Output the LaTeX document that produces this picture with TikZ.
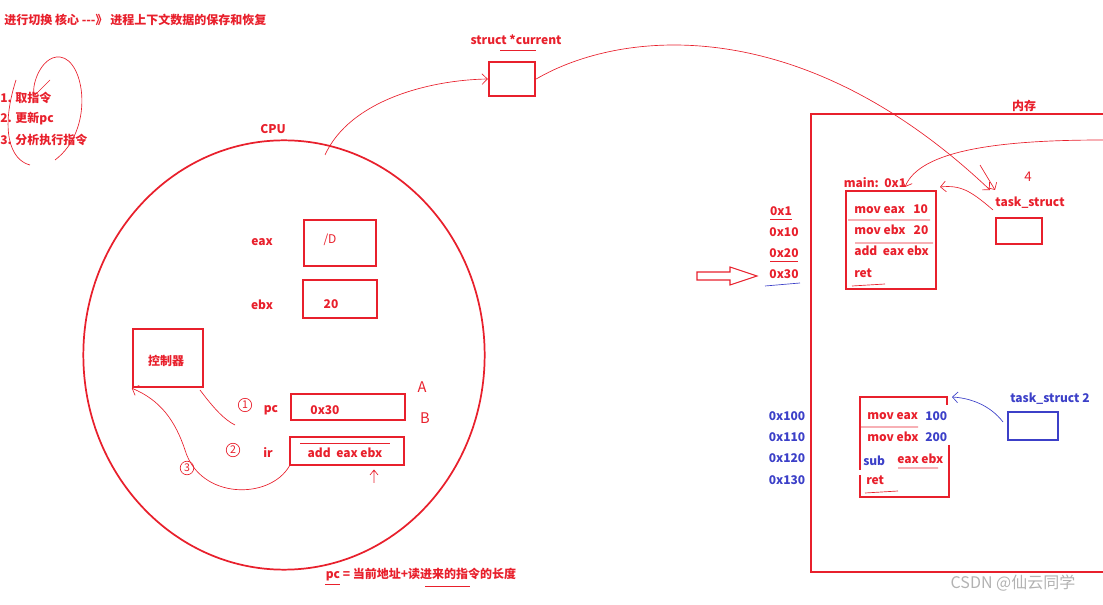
\documentclass[tikz,border=0pt]{standalone}
\usepackage{fontspec}
\setmainfont{Noto Sans CJK SC}
\usetikzlibrary{arrows.meta,shapes.geometric}
\definecolor{rd}{RGB}{232,32,44}
\definecolor{bl}{RGB}{60,64,200}
\tikzset{
 t/.style={font=\bfseries\fontsize{9}{10}\selectfont,text=rd,inner sep=0pt},
 tb/.style={t,text=bl},
 bx/.style={draw=rd,line width=1.3pt},
 bbx/.style={draw=bl,line width=1.3pt},
 hand/.style={draw=rd,line width=0.5pt},
 hb/.style={draw=bl,line width=0.5pt},
 ha/.style={hand,-{Straight Barb[length=4pt]}},
}
\begin{document}
\begin{tikzpicture}[x=0.75pt,y=-0.75pt]
\useasboundingbox (0,0) rectangle (1103,605);
\node[t,anchor=west] (title) at (4,20) {进行切换 核心 -{}-{}-》 进程上下文数据的保存和恢复};
\node[t] (curl) at (516,40) {struct *current};
\draw[hand] (500,50) -- (536,50);
\node[bx,minimum width=35pt,minimum height=25pt] (cur) at (512,79) {};
\node[t,anchor=west] (l1) at (0,98) {1. 取指令};
\node[t,anchor=west] (l2) at (0,119) {2. 更新pc};
\node[t,anchor=west] (l3) at (0,140) {3. 分析执行指令};
\draw[hand] (16,80) .. controls (0,130) and (10,160) .. (30,165);
\draw[hand] (55,160) .. controls (95,130) and (85,60) .. (60,57) .. controls (40,55) and (30,90) .. (35,95);
\draw[hand] (50,80) -- (35,95);
\node[t] (cpul) at (273,129) {CPU};
\node[ellipse,draw=rd,line width=1.3pt,minimum width=301pt,minimum height=322pt] (cpu) at (284,355) {};
\node[t] (eaxl) at (262,242) {eax};
\node[bx,minimum width=54pt,minimum height=34pt] (eax) at (340,243) {};
\node[font=\fontsize{9}{10}\selectfont,text=rd] (ten) at (330,240) {/D};
\node[t] (ebxl) at (262,305) {ebx};
\node[bx,minimum width=55pt,minimum height=29pt] (ebx) at (340,299) {};
\node[t] (twenty) at (331,304) {20};
\node[bx,minimum width=53pt,minimum height=44pt] (ctl) at (168,358) {};
\node[t] (ctlt) at (166,361) {控制器};
\node[t] (pcl) at (271,410) {pc};
\node[bx,minimum width=86pt,minimum height=19pt] (pc) at (348,407) {};
\node[t] (pcv) at (325,410) {0x30};
\node[t] (irl) at (268,453) {ir};
\node[bx,minimum width=85pt,minimum height=21pt] (ir) at (347,451) {};
\node[t] (irv) at (345,453) {add\ \ eax ebx};
\draw[hand] (300,443) -- (390,443);
\node[font=\fontsize{11}{12}\selectfont,text=rd] (A) at (422,387) {A};
\node[font=\fontsize{11}{12}\selectfont,text=rd] (B) at (425,418) {B};
\draw[hand] (374,483) -- (374,470) (370,475) -- (374,470) -- (378,475);
\node[circle,hand,inner sep=1pt,font=\fontsize{8}{9}\selectfont,text=rd] (c1) at (245,405) {1};
\node[circle,hand,inner sep=1pt,font=\fontsize{8}{9}\selectfont,text=rd] (c2) at (233,450) {2};
\node[circle,hand,inner sep=1pt,font=\fontsize{8}{9}\selectfont,text=rd] (c3) at (187,468) {3};
\draw[hand] (200,390) .. controls (215,410) and (225,420) .. (235,425);
\draw[ha] (ir.south west) .. controls (270,500) and (200,500) .. (185,450) .. controls (175,420) and (160,400) .. (ctl.south west);
\node[t] (form) at (421,575) {pc = 当前地址+读进来的指令的长度};
\draw[hand] (325,584) -- (340,584) (425,586) -- (470,586);
\draw[ha] (325,155) .. controls (350,100) and (430,80) .. (cur.west);
\draw[ha] (cur.east) .. controls (620,30) and (800,10) .. (990,190);
\node[t] (meml) at (1024,106) {内存};
\draw[draw=rd,line width=1.3pt] (1103,114) -- (811,114) -- (811,572) -- (1103,572);
\node[t] (a1) at (781,211) {0x1};
\node[t] (a2) at (784,232) {0x10};
\node[t] (a3) at (784,253) {0x20};
\node[t] (a4) at (784,274) {0x30};
\draw[hand] (770,219) -- (792,219) (770,261) -- (798,261);
\draw[hb] (765,286) -- (800,283);
\node[tb] (b1) at (787,416) {0x100};
\node[tb] (b2) at (787,437) {0x110};
\node[tb] (b3) at (787,458) {0x120};
\node[tb] (b4) at (787,480) {0x130};
\draw[draw=rd,line width=0.8pt] (697,272) -- (730,272) -- (730,267) -- (757,276) -- (730,285) -- (730,280) -- (697,280) -- cycle;
\node[t] (mainl) at (875,183) {main:\ \ 0x1};
\node[bx,minimum width=67pt,minimum height=74pt] (m1) at (891,240) {};
\node[t,anchor=west] (m11) at (854,209) {mov eax\ \ \ 10};
\node[t,anchor=west] (m12) at (854,230) {mov ebx\ \ \ 20};
\node[t,anchor=west] (m13) at (854,251) {add\ \ eax ebx};
\node[t,anchor=west] (m14) at (854,273) {ret};
\draw[hand] (848,220) -- (930,220) (855,243) -- (933,243) (852,286) -- (885,284);
\node[t] (ts) at (1030,203) {task\_struct};
\node[bx,minimum width=35pt,minimum height=20pt] (tsb) at (1019,231) {};
\node[font=\fontsize{10}{11}\selectfont,text=rd] (four) at (1028,177) {4};
\draw[ha] (1103,140) .. controls (1000,140) and (920,150) .. (905,187);
\draw[ha] (993,210) .. controls (970,190) and (960,185) .. (940,187);
\draw[ha] (980,165) -- (995,190);
\draw[draw=rd,line width=1.3pt] (860,470) -- (860,397) -- (947,397) -- (947,405);
\draw[draw=rd,line width=1.3pt] (949,445) -- (949,497) -- (860,497) -- (860,475);
\node[t,anchor=west] (n11) at (867,416) {mov eax};
\node[tb,anchor=west] (n11v) at (925,416) {100};
\node[t,anchor=west] (n12) at (867,437) {mov ebx};
\node[tb,anchor=west] (n12v) at (925,437) {200};
\node[tb,anchor=west] (n13) at (863,461) {sub};
\node[t,anchor=west] (n13v) at (897,459) {eax ebx};
\node[t,anchor=west] (n14) at (866,480) {ret};
\draw[hand] (860,427) -- (918,427) (898,468) -- (938,468) (865,493) -- (898,491);
\node[tb] (ts2) at (1050,399) {task\_struct 2};
\node[bbx,minimum width=37pt,minimum height=21pt] (ts2b) at (1033,426) {};
\draw[hb,-{Straight Barb[length=4pt]}] (1003,422) .. controls (990,405) and (970,398) .. (952,397);
\node[font=\fontsize{12}{13}\selectfont,text=gray!60] (wm) at (1013,583) {CSDN @仙云同学};
\end{tikzpicture}
\end{document}
